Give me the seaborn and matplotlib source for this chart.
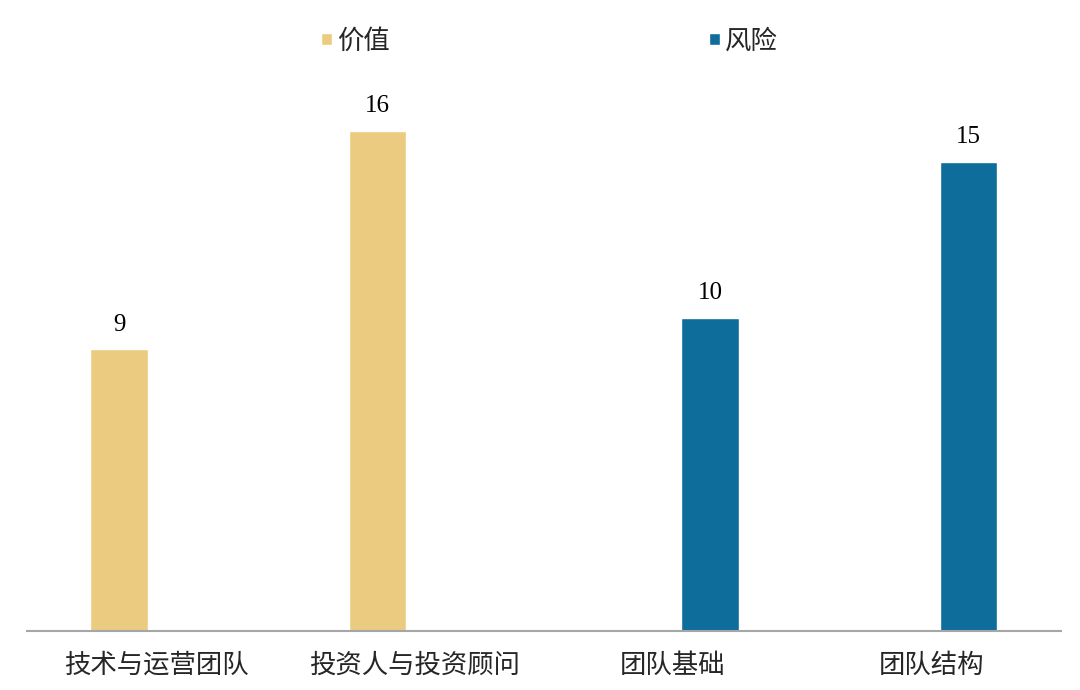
import pandas as pd
import seaborn as sns
import matplotlib.pyplot as plt

# chart data
categories = ["技术与运营团队", "投资人与投资顾问", "团队基础", "团队结构"]
groups = ["价值", "价值", "风险", "风险"]
values = [9, 16, 10, 15]
group_order = ["价值", "风险"]
group_colors = ["#EBCB80", "#0E6D9A"]

df = pd.DataFrame({"类别": categories, "组": groups, "数量": values})

sns.set_theme(style="white")
plt.rcParams["font.family"] = ["Noto Sans CJK SC", "DejaVu Sans"]

fig = plt.figure(figsize=(10.8, 6.9), dpi=100)
ax = fig.add_axes([0.025, 0.0855, 0.957, 0.816])

sns.barplot(data=df, x="类别", y="数量", hue="组", hue_order=group_order,
            palette=group_colors, dodge=True, width=0.573, gap=0.22,
            saturation=1, ax=ax)

ax.set_ylim(0, 18)
ax.set_xlim(-0.5, 3.5)
ax.set_xlabel("")
ax.set_ylabel("")
ax.set_yticks([])
ax.tick_params(axis="x", length=0, pad=15, labelsize=19)

for side in ["left", "right", "top"]:
    ax.spines[side].set_visible(False)
ax.spines["bottom"].set_color("#A6A6A6")
ax.spines["bottom"].set_linewidth(1.5)

# value labels on top of bars
for cont in ax.containers:
    ax.bar_label(cont, fmt="%d", padding=10, fontsize=18,
                 family="Liberation Serif", color="black")

handles, labels = ax.get_legend_handles_labels()
ax.get_legend().remove()
fig.legend(handles, labels, loc="center", bbox_to_anchor=(0.509, 1 - 41 / 690),
           ncol=2, frameon=False, fontsize=19, handlelength=0.4,
           handleheight=0.3, handletextpad=0.2, columnspacing=12.1)

fig.savefig("out.png", dpi=100)
